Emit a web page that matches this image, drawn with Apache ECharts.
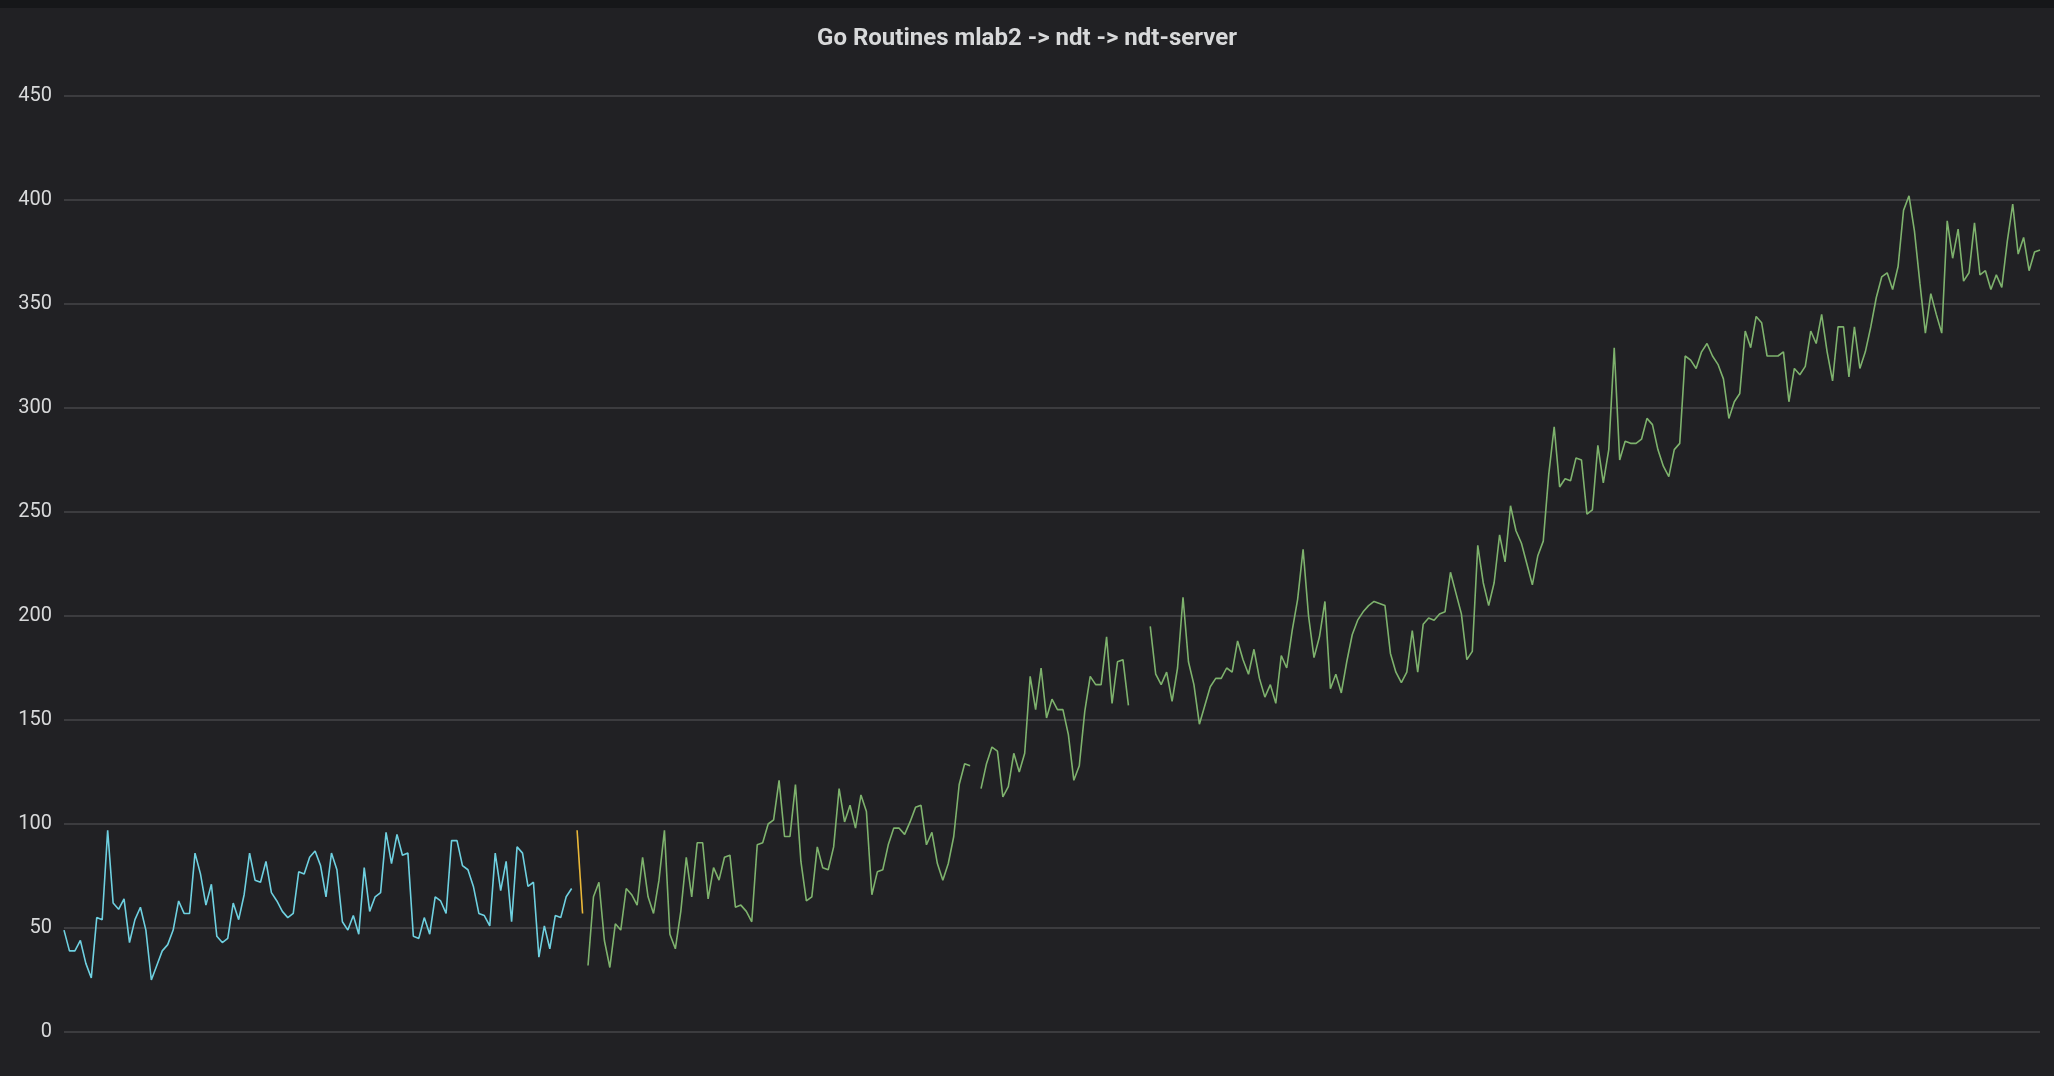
<!DOCTYPE html>
<html>
<head>
<meta charset="utf-8">
<script src="https://cdn.jsdelivr.net/npm/echarts@6/dist/echarts.min.js"></script>
<style>
html,body{margin:0;padding:0;background:#212124;}
#bar{height:8px;background:#161719;}
#chart{width:2054px;height:1068px;}
</style>
</head>
<body>
<div id="bar"></div>
<div id="chart"></div>
<script>
// 数据
var blueVals=[49,39,39,44,33,26,55,54,97,62,59,64,43,54,60,49,25,32,39,42,49,63,57,57,86,76,61,71,46,43,45,62,54,66,86,73,72,82,67,63,58,55,57,77,76,84,87,80,65,86,78,53,49,56,47,79,58,65,67,96,81,95,85,86,46,45,55,47,65,63,57,92,92,80,78,70,57,56,51,86,68,82,53,89,86,70,72,36,51,40,56,55,65,69];
var orangeVals=[97,57];
var greenVals=[32,65,72,44,31,52,49,69,66,61,84,65,57,73,97,47,40,58,84,65,91,91,64,79,73,84,85,60,61,58,53,90,91,100,102,121,94,94,119,82,63,65,89,79,78,89,117,101,109,98,114,106,66,77,78,90,98,98,95,101,108,109,90,96,81,73,81,94,119,129,128,
null,
117,129,137,135,113,118,134,125,134,171,155,175,151,160,155,155,143,121,128,154,171,167,167,190,158,178,179,157,
null,null,null,
195,172,167,173,159,175,209,178,167,148,157,166,170,170,175,173,188,179,172,184,170,161,167,158,181,175,193,208,232,200,180,190,207,165,172,163,178,191,198,202,205,207,206,205,182,173,168,173,193,173,196,199,198,201,202,221,211,201,179,183,234,216,205,216,239,226,253,241,235,225,215,229,236,268,291,262,266,265,276,275,249,251,282,264,280,329,275,284,283,283,285,295,292,280,272,267,280,283,325,323,319,327,331,325,321,314,295,303,307,337,329,344,341,325,325,325,327,303,319,316,320,337,331,345,327,313,339,339,315,339,319,327,339,353,
363,365,357,368,395,402,385,360,336,355,345,336,390,372,386,361,365,389,364,366,357,364,358,380,398,374,382,366,375,376];
var yTicks={min:0,max:450,step:50};

var total=blueVals.length+orangeVals.length+greenVals.length;
var cats=[];for(var i=0;i<total;i++)cats.push(i);
function pad(vals,offset){
  var out=[];
  for(var i=0;i<total;i++){
    var j=i-offset;
    out.push(j>=0&&j<vals.length?vals[j]:null);
  }
  return out;
}

var chart=echarts.init(document.getElementById('chart'));
chart.setOption({
  backgroundColor:'#212124',
  animation:false,
  title:{
    text:'Go Routines mlab2 -> ndt -> ndt-server',
    left:'center',top:14,
    textStyle:{color:'#d8d9da',fontSize:24,fontWeight:'bold',fontFamily:'Roboto'}
  },
  grid:{left:64,right:14,top:88,bottom:44},
  xAxis:{
    type:'category',data:cats,boundaryGap:false,
    axisLine:{show:false},axisTick:{show:false},axisLabel:{show:false},splitLine:{show:false}
  },
  yAxis:{
    type:'value',min:yTicks.min,max:yTicks.max,interval:yTicks.step,
    axisLine:{show:false},axisTick:{show:false},
    axisLabel:{color:'#d8d9da',fontSize:20,fontFamily:'Roboto',margin:12},
    splitLine:{lineStyle:{color:'#464649',width:1.5}}
  },
  series:[
    {type:'line',data:pad(blueVals,0),showSymbol:false,connectNulls:false,lineStyle:{color:'#6ed0e0',width:1.6}},
    {type:'line',data:pad(orangeVals,blueVals.length),showSymbol:false,lineStyle:{color:'#eab839',width:1.6}},
    {type:'line',data:pad(greenVals,blueVals.length+orangeVals.length),showSymbol:false,connectNulls:false,lineStyle:{color:'#7eb26d',width:1.6}}
  ]
});
</script>
</body>
</html>
